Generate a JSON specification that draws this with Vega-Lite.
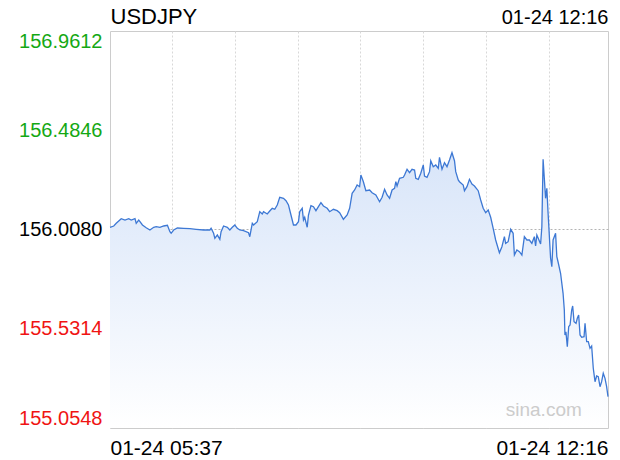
{
  "$schema": "https://vega.github.io/schema/vega-lite/v6.json",
  "width": 498,
  "height": 397,
  "autosize": "none",
  "padding": {"left": 110, "top": 31, "right": 12, "bottom": 32},
  "background": "#ffffff",
  "config": {
    "view": {"stroke": "#cccccc", "strokeWidth": 1},
    "font": "Liberation Sans"
  },
  "data": {
    "values": [
      {"t": 0, "v": 156.0186}, {"t": 3, "v": 156.0248}, {"t": 5, "v": 156.0378}, {"t": 9, "v": 156.0599},
      {"t": 12, "v": 156.0536}, {"t": 15, "v": 156.0599}, {"t": 17, "v": 156.0536}, {"t": 20, "v": 156.0599},
      {"t": 21, "v": 156.0378}, {"t": 23, "v": 156.0536}, {"t": 24, "v": 156.0455}, {"t": 26, "v": 156.0296},
      {"t": 29, "v": 156.0167}, {"t": 32, "v": 156.0056}, {"t": 35, "v": 156.0186}, {"t": 37, "v": 156.0215},
      {"t": 40, "v": 156.0186}, {"t": 43, "v": 156.0248}, {"t": 46, "v": 156.0282}, {"t": 48, "v": 155.9974},
      {"t": 49, "v": 155.9898}, {"t": 51, "v": 156.0056}, {"t": 54, "v": 156.0152}, {"t": 59, "v": 156.0138},
      {"t": 64, "v": 156.0118}, {"t": 69, "v": 156.0090}, {"t": 75, "v": 156.0056}, {"t": 80, "v": 156.0056},
      {"t": 81, "v": 156.0138}, {"t": 83, "v": 155.9898}, {"t": 84, "v": 155.9657}, {"t": 86, "v": 155.9816},
      {"t": 88, "v": 155.9609}, {"t": 89, "v": 155.9974}, {"t": 91, "v": 156.0248}, {"t": 94, "v": 156.0186},
      {"t": 96, "v": 156.0056}, {"t": 98, "v": 156.0186}, {"t": 100, "v": 156.0296}, {"t": 102, "v": 156.0138},
      {"t": 104, "v": 156.0056}, {"t": 107, "v": 156.0022}, {"t": 111, "v": 155.9926}, {"t": 112, "v": 155.9734},
      {"t": 114, "v": 156.0378}, {"t": 115, "v": 156.0296}, {"t": 118, "v": 156.0455}, {"t": 120, "v": 156.0935},
      {"t": 122, "v": 156.0824}, {"t": 123, "v": 156.0935}, {"t": 126, "v": 156.0824}, {"t": 128, "v": 156.0968},
      {"t": 130, "v": 156.1098}, {"t": 132, "v": 156.1050}, {"t": 134, "v": 156.1257}, {"t": 136, "v": 156.1626},
      {"t": 139, "v": 156.1578}, {"t": 141, "v": 156.1463}, {"t": 143, "v": 156.1257}, {"t": 145, "v": 156.0776},
      {"t": 147, "v": 156.0296}, {"t": 149, "v": 156.0296}, {"t": 151, "v": 156.0455}, {"t": 152, "v": 156.0935},
      {"t": 154, "v": 156.1098}, {"t": 155, "v": 156.0536}, {"t": 156, "v": 156.0666}, {"t": 158, "v": 156.0186},
      {"t": 159, "v": 156.0776}, {"t": 161, "v": 156.1223}, {"t": 163, "v": 156.1175}, {"t": 165, "v": 156.0983},
      {"t": 167, "v": 156.1175}, {"t": 169, "v": 156.1367}, {"t": 171, "v": 156.1208}, {"t": 174, "v": 156.1098},
      {"t": 176, "v": 156.0935}, {"t": 179, "v": 156.1050}, {"t": 182, "v": 156.0983}, {"t": 184, "v": 156.0887},
      {"t": 187, "v": 156.0570}, {"t": 190, "v": 156.0776}, {"t": 192, "v": 156.1098}, {"t": 194, "v": 156.1818},
      {"t": 196, "v": 156.1977}, {"t": 198, "v": 156.2217}, {"t": 200, "v": 156.2135}, {"t": 201, "v": 156.2697},
      {"t": 203, "v": 156.2375}, {"t": 205, "v": 156.1943}, {"t": 208, "v": 156.1977}, {"t": 210, "v": 156.1847},
      {"t": 213, "v": 156.1737}, {"t": 216, "v": 156.1415}, {"t": 218, "v": 156.1626}, {"t": 220, "v": 156.2010},
      {"t": 222, "v": 156.1737}, {"t": 224, "v": 156.1578}, {"t": 226, "v": 156.1977}, {"t": 228, "v": 156.2059},
      {"t": 229, "v": 156.2375}, {"t": 230, "v": 156.2169}, {"t": 232, "v": 156.2539}, {"t": 235, "v": 156.2587},
      {"t": 236, "v": 156.2697}, {"t": 238, "v": 156.2971}, {"t": 240, "v": 156.2808}, {"t": 242, "v": 156.2971},
      {"t": 244, "v": 156.2937}, {"t": 245, "v": 156.2539}, {"t": 247, "v": 156.2491}, {"t": 249, "v": 156.2779},
      {"t": 251, "v": 156.3177}, {"t": 252, "v": 156.2649}, {"t": 254, "v": 156.2587}, {"t": 256, "v": 156.2856},
      {"t": 257, "v": 156.3384}, {"t": 259, "v": 156.3096}, {"t": 261, "v": 156.3177}, {"t": 263, "v": 156.3019},
      {"t": 264, "v": 156.3547}, {"t": 266, "v": 156.2971}, {"t": 268, "v": 156.3288}, {"t": 270, "v": 156.3096},
      {"t": 272, "v": 156.3417}, {"t": 274, "v": 156.3768}, {"t": 276, "v": 156.3384}, {"t": 277, "v": 156.2856},
      {"t": 279, "v": 156.2457}, {"t": 280, "v": 156.2375}, {"t": 283, "v": 156.2217}, {"t": 284, "v": 156.1943},
      {"t": 286, "v": 156.2135}, {"t": 288, "v": 156.2491}, {"t": 290, "v": 156.2265}, {"t": 292, "v": 156.2169},
      {"t": 295, "v": 156.1943}, {"t": 297, "v": 156.1497}, {"t": 299, "v": 156.1098}, {"t": 301, "v": 156.0887},
      {"t": 303, "v": 156.1016}, {"t": 305, "v": 156.0666}, {"t": 307, "v": 156.0138}, {"t": 309, "v": 155.9576},
      {"t": 312, "v": 155.8966}, {"t": 314, "v": 155.9254}, {"t": 316, "v": 155.9734}, {"t": 317, "v": 155.9417},
      {"t": 319, "v": 155.9494}, {"t": 321, "v": 156.0090}, {"t": 323, "v": 155.9898}, {"t": 324, "v": 155.8856},
      {"t": 326, "v": 155.9096}, {"t": 328, "v": 155.9014}, {"t": 330, "v": 155.8856}, {"t": 332, "v": 155.9734},
      {"t": 334, "v": 155.9576}, {"t": 336, "v": 155.9576}, {"t": 338, "v": 155.9417}, {"t": 340, "v": 155.9734},
      {"t": 341, "v": 155.9288}, {"t": 342, "v": 155.9816}, {"t": 345, "v": 155.9384}, {"t": 346, "v": 156.0215},
      {"t": 347, "v": 156.3451}, {"t": 349, "v": 156.1578}, {"t": 350, "v": 156.2059}, {"t": 351, "v": 156.0858},
      {"t": 353, "v": 155.8697}, {"t": 354, "v": 155.8294}, {"t": 355, "v": 155.9576}, {"t": 357, "v": 155.9898},
      {"t": 358, "v": 155.8774}, {"t": 359, "v": 155.8519}, {"t": 361, "v": 155.7977}, {"t": 363, "v": 155.7016},
      {"t": 364, "v": 155.6214}, {"t": 364.5, "v": 155.5014}, {"t": 365.3, "v": 155.5172}, {"t": 366.4, "v": 155.4452},
      {"t": 367.5, "v": 155.5413}, {"t": 368.6, "v": 155.5494}, {"t": 369.9, "v": 155.6214}, {"t": 370.7, "v": 155.6406},
      {"t": 371.8, "v": 155.5653}, {"t": 373.4, "v": 155.5576}, {"t": 374.4, "v": 155.5816}, {"t": 375.5, "v": 155.5974},
      {"t": 376.6, "v": 155.5014}, {"t": 377.9, "v": 155.4904}, {"t": 379.8, "v": 155.4932}, {"t": 380.6, "v": 155.5576},
      {"t": 381.9, "v": 155.4692}, {"t": 383.2, "v": 155.4692}, {"t": 384.6, "v": 155.4375}, {"t": 385.9, "v": 155.4486},
      {"t": 387.2, "v": 155.3415}, {"t": 388.6, "v": 155.2771}, {"t": 389.9, "v": 155.3045}, {"t": 391.2, "v": 155.3012},
      {"t": 392.6, "v": 155.2531}, {"t": 393.9, "v": 155.2771}, {"t": 395.2, "v": 155.3175}, {"t": 396.6, "v": 155.2934},
      {"t": 397.9, "v": 155.2531}, {"t": 399, "v": 155.2051}
    ]
  },
  "resolve": {"axis": {"x": "independent"}},
  "layer": [
    {
      "mark": {
        "type": "area",
        "color": {
          "gradient": "linear",
          "x1": 0, "y1": 0, "x2": 0, "y2": 1,
          "stops": [
            {"offset": 0, "color": "#d8e5f9"},
            {"offset": 1, "color": "#ffffff"}
          ]
        }
      },
      "encoding": {
        "x": {
          "field": "t", "type": "quantitative",
          "scale": {"domain": [0, 399], "nice": false, "zero": false},
          "axis": {
            "title": null,
            "orient": "bottom",
            "values": [0, 49.8, 100, 150.3, 200.5, 250.8, 301.1, 351.4, 399],
            "labelExpr": "datum.value == 0 ? '01-24 05:37' : (datum.value == 399 ? '01-24 12:16' : '')",
            "labelAlign": {"condition": {"test": "datum.value == 0", "value": "left"}, "value": "right"},
            "labelFlush": false,
            "labelOverlap": false,
            "labelBaseline": "top",
            "labelPadding": 9,
            "labelFontSize": 21,
            "labelFont": "Liberation Sans",
            "labelColor": "#000000",
            "domain": false,
            "ticks": false,
            "tickSize": 0,
            "grid": true,
            "gridColor": "#d8d8d8",
            "gridDash": [2, 2],
            "gridWidth": 1,
            "gridOpacity": {"condition": {"test": "datum.value == 0 || datum.value == 399", "value": 0}, "value": 1}
          }
        },
        "y": {
          "field": "v", "type": "quantitative",
          "scale": {"domain": [155.0548, 156.9612], "nice": false, "zero": false},
          "axis": {
            "title": null,
            "values": [155.0548, 155.5314, 156.008, 156.4846, 156.9612],
            "format": ".4f",
            "labelFontSize": 20,
            "labelFont": "Liberation Sans",
            "labelPadding": 8,
            "labelOverlap": false,
            "labelColor": {"condition": [
              {"test": "datum.value > 156.01", "value": "#14a814"},
              {"test": "datum.value < 156.0", "value": "#f01414"}
            ], "value": "#000000"},
            "labelBaseline": {"condition": [
              {"test": "datum.value > 156.9", "value": "top"},
              {"test": "datum.value < 155.1", "value": "bottom"}
            ], "value": "middle"},
            "domain": false,
            "ticks": false,
            "tickSize": 0,
            "grid": true,
            "gridColor": "#b4b4b4",
            "gridDash": [2, 2],
            "gridOpacity": {"condition": {"test": "abs(datum.value - 156.008) < 0.001", "value": 1}, "value": 0}
          }
        },
        "y2": {"datum": 155.0548}
      }
    },
    {
      "mark": {"type": "line", "color": "#3d78d4", "strokeWidth": 1.3},
      "encoding": {
        "x": {
          "field": "t", "type": "quantitative",
          "axis": {
            "title": null,
            "orient": "top",
            "values": [0, 399],
            "labelExpr": "datum.value == 0 ? 'USDJPY' : '01-24 12:16'",
            "labelAlign": {"condition": {"test": "datum.value == 0", "value": "left"}, "value": "right"},
            "labelFontSize": {"condition": {"test": "datum.value == 0", "value": 22}, "value": 20},
            "labelFont": "Liberation Sans",
            "labelColor": "#000000",
            "labelBaseline": "alphabetic",
            "labelPadding": 8,
            "labelFlush": false,
            "labelOverlap": false,
            "domain": false,
            "ticks": false,
            "tickSize": 0,
            "grid": false
          }
        },
        "y": {"field": "v", "type": "quantitative"}
      }
    },
    {
      "data": {"values": [{"label": "sina.com"}]},
      "mark": {"type": "text", "align": "right", "baseline": "middle", "fontSize": 19, "color": "#cccccc", "font": "Liberation Sans"},
      "encoding": {
        "x": {"datum": 378, "type": "quantitative", "axis": null},
        "y": {"datum": 155.141, "type": "quantitative"},
        "text": {"field": "label"}
      }
    }
  ]
}
